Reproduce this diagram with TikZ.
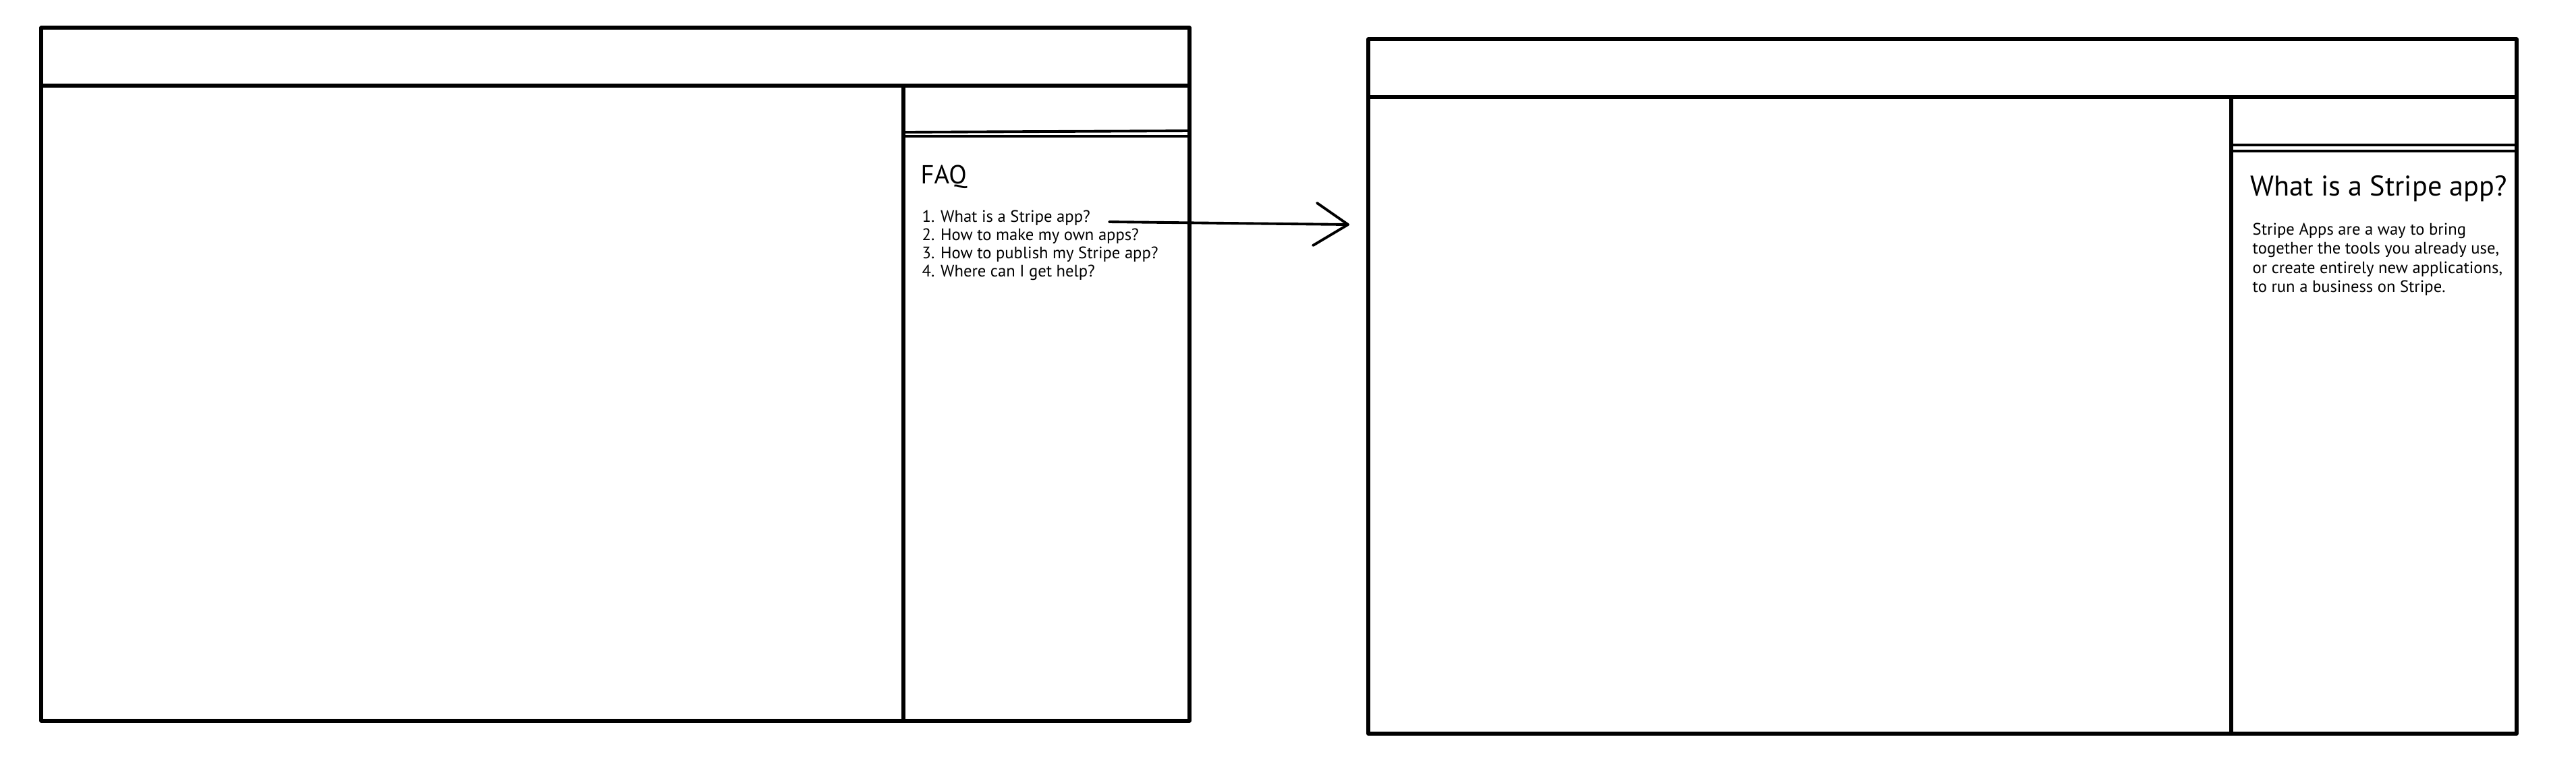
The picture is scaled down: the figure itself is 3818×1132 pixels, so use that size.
\documentclass[tikz,border=0pt]{standalone}
\usepackage{fontspec}
\setmainfont{PT Sans}
\begin{document}
\begin{tikzpicture}[x=0.01cm,y=-0.01cm,
  frame/.style={draw,line width=1.5pt,line join=round},
  thin/.style={draw,line width=1.1pt},
  txt/.style={anchor=west,inner sep=0pt,font=\fontsize{7}{8}\selectfont},
  arr/.style={line width=1.1pt,line cap=round,line join=round}]
\useasboundingbox (0,0) rectangle (3818,1132);
% left window
\draw[frame] (61,41) rectangle (1763,1069);
\draw[frame] (61,127) -- (1763,127);
\draw[frame] (1339,127) -- (1339,1069);
\draw[thin] (1339,202) -- (1763,202);
\draw[thin] (1339,196) -- (1763,194);
\node[txt,font=\fontsize{11}{12}\selectfont] (faq) at (1364,262) {FAQ};
\node[txt] (q1) at (1366,323) {1. What is a Stripe app?};
\node[txt] (q2) at (1366,350) {2. How to make my own apps?};
\node[txt] (q3) at (1366,377) {3. How to publish my Stripe app?};
\node[txt] (q4) at (1366,404) {4. Where can I get help?};
% right window
\draw[frame] (2028,58) rectangle (3730,1088);
\draw[frame] (2028,144) -- (3730,144);
\draw[frame] (3307,144) -- (3307,1088);
\draw[thin] (3307,215) -- (3730,215);
\draw[thin] (3307,224) -- (3730,224);
\node[txt,font=\fontsize{12}{13}\selectfont] (title) at (3335,280) {What is a Stripe app?};
\node[txt,anchor=north west,align=left,font=\fontsize{7}{8.1}\selectfont] (body) at (3338,330)
 {Stripe Apps are a way to bring\\together the tools you already use,\\or create entirely new applications,\\to run a business on Stripe.};
% arrow
\coordinate (st) at (1644,329);
\coordinate (tip) at (1998,333);
\draw[arr] (st) -- (tip);
\draw[arr] (1952,301) -- (tip) -- (1946,364);
\end{tikzpicture}
\end{document}
